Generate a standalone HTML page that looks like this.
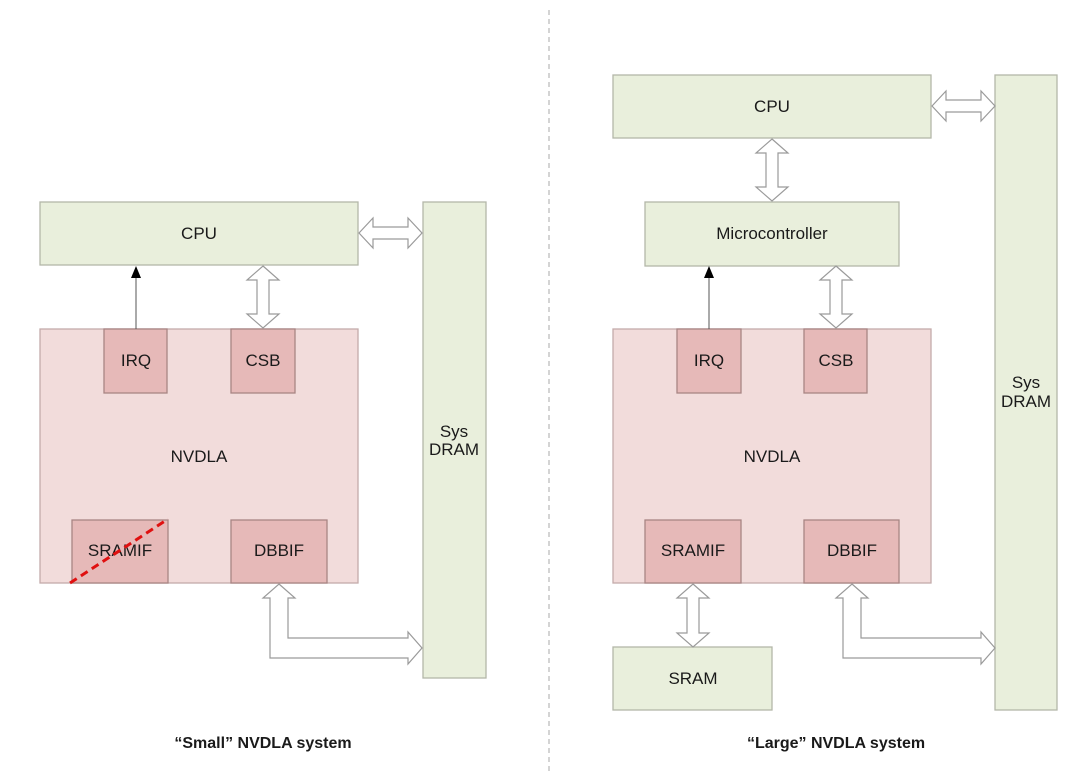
<!DOCTYPE html>
<html><head><meta charset="utf-8"><style>
html,body{margin:0;padding:0;background:#fff;}
svg{display:block;}
text{font-family:"Liberation Sans","Noto Sans CJK SC",sans-serif;font-size:17px;fill:#1a1a1a;}
.g{fill:#e9efdc;stroke:#b3b7a9;stroke-width:1.3;}
.n{fill:#f2dcdb;stroke:#c4abaa;stroke-width:1.3;}
.s{fill:#e6b9b8;stroke:#a88584;stroke-width:1.3;}
.a{fill:#fff;stroke:#9a9a9a;stroke-width:1.2;}
</style></head><body>
<svg width="1080" height="777" viewBox="0 0 1080 777">
<line x1="549" y1="10" x2="549" y2="772" stroke="#aaa" stroke-width="1" stroke-dasharray="5,4"/>
<!-- LEFT -->
<rect class="g" x="40" y="202" width="318" height="63"/>
<text x="199" y="239" text-anchor="middle">CPU</text>
<rect class="g" x="423" y="202" width="63" height="476"/>
<text x="454" y="437" text-anchor="middle">Sys</text>
<text x="454" y="455" text-anchor="middle">DRAM</text>
<rect class="n" x="40" y="329" width="318" height="254"/>
<rect class="s" x="104" y="329" width="63" height="64"/>
<text x="136" y="366" text-anchor="middle">IRQ</text>
<rect class="s" x="231" y="329" width="64" height="64"/>
<text x="263" y="366" text-anchor="middle">CSB</text>
<text x="199" y="462" text-anchor="middle">NVDLA</text>
<rect class="s" x="72" y="520" width="96" height="63"/>
<text x="120" y="556" text-anchor="middle">SRAMIF</text>
<rect class="s" x="231" y="520" width="96" height="63"/>
<text x="279" y="556" text-anchor="middle">DBBIF</text>
<line x1="70" y1="583" x2="168" y2="519" stroke="#e01010" stroke-width="3" stroke-dasharray="8,5"/>
<line x1="136" y1="329" x2="136" y2="276" stroke="#555" stroke-width="1"/>
<polygon points="136,266 131,278 141,278" fill="#000"/>
<polygon class="a" points="359,233 373,218 373,227 408,227 408,218 422,233 408,248 408,239 373,239 373,248"/>
<polygon class="a" points="263,266 279,280 269,280 269,314 279,314 263,328 247,314 257,314 257,280 247,280"/>
<polygon class="a" points="279,584 295,598 288,598 288,638 408,638 408,632 422,648 408,664 408,658 270,658 270,598 263,598"/>
<text x="263" y="748" text-anchor="middle" style="font-weight:bold;font-size:16px">“Small” NVDLA system</text>
<!-- RIGHT -->
<rect class="g" x="613" y="75" width="318" height="63"/>
<text x="772" y="112" text-anchor="middle">CPU</text>
<rect class="g" x="995" y="75" width="62" height="635"/>
<text x="1026" y="388" text-anchor="middle">Sys</text>
<text x="1026" y="407" text-anchor="middle">DRAM</text>
<rect class="g" x="645" y="202" width="254" height="64"/>
<text x="772" y="239" text-anchor="middle">Microcontroller</text>
<rect class="n" x="613" y="329" width="318" height="254"/>
<rect class="s" x="677" y="329" width="64" height="64"/>
<text x="709" y="366" text-anchor="middle">IRQ</text>
<rect class="s" x="804" y="329" width="63" height="64"/>
<text x="836" y="366" text-anchor="middle">CSB</text>
<text x="772" y="462" text-anchor="middle">NVDLA</text>
<rect class="s" x="645" y="520" width="96" height="63"/>
<text x="693" y="556" text-anchor="middle">SRAMIF</text>
<rect class="s" x="804" y="520" width="95" height="63"/>
<text x="852" y="556" text-anchor="middle">DBBIF</text>
<rect class="g" x="613" y="647" width="159" height="63"/>
<text x="693" y="684" text-anchor="middle">SRAM</text>
<line x1="709" y1="329" x2="709" y2="276" stroke="#555" stroke-width="1"/>
<polygon points="709,266 704,278 714,278" fill="#000"/>
<polygon class="a" points="932,106 946,91 946,100 981,100 981,91 995,106 981,121 981,112 946,112 946,121"/>
<polygon class="a" points="772,139 788,153 778,153 778,187 788,187 772,201 756,187 766,187 766,153 756,153"/>
<polygon class="a" points="836,266 852,280 842,280 842,314 852,314 836,328 820,314 830,314 830,280 820,280"/>
<polygon class="a" points="693,584 709,598 699,598 699,633 709,633 693,647 677,633 687,633 687,598 677,598"/>
<polygon class="a" points="852,584 868,598 861,598 861,638 981,638 981,632 995,648 981,664 981,658 843,658 843,598 836,598"/>
<text x="836" y="748" text-anchor="middle" style="font-weight:bold;font-size:16px">“Large” NVDLA system</text>
</svg>
</body></html>
